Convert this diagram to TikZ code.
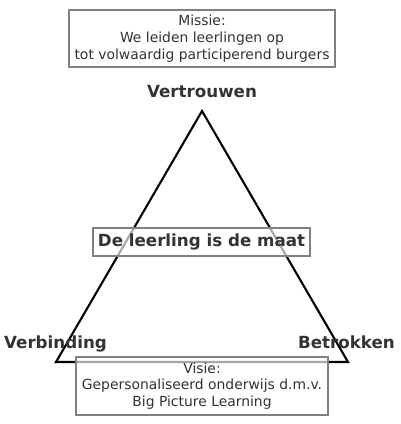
\documentclass[tikz,border=0pt]{standalone}
\usepackage{fontspec}
\setmainfont{DejaVu Sans}
\definecolor{txt}{RGB}{51,51,51}
\definecolor{edge}{RGB}{128,128,128}
\begin{document}
\begin{tikzpicture}[x=1pt,y=-1pt,
  infobox/.style={draw=edge,line width=1.2pt,fill=white,fill opacity=0.65,text opacity=1,
    text=txt,align=center,inner sep=0pt,font=\fontsize{13.9}{16.7}\selectfont},
  corner/.style={text=txt,inner sep=0pt,anchor=base,font=\fontsize{16.7}{20}\selectfont\bfseries}]
\useasboundingbox (0,0) rectangle (400,424);
\coordinate (A) at (202,111);
\coordinate (B) at (56,362);
\coordinate (C) at (348,362);
\draw[line width=2.1pt,line join=miter] (A) -- (B) -- (C) -- cycle;
\node[infobox,minimum width=266,minimum height=57] (missie) at (202,38.5)
  {Missie:\\We leiden leerlingen op\\tot volwaardig participerend burgers};
\node[infobox,minimum width=217,minimum height=28,font=\fontsize{16.7}{20}\selectfont\bfseries] (maat) at (201.5,242)
  {De leerling is de maat};
\node[infobox,minimum width=252,minimum height=58] (visie) at (202,386)
  {Visie:\\Gepersonaliseerd onderwijs d.m.v.\\Big Picture Learning};
\node[corner] (vert) at (202,97.5) {Vertrouwen};
\node[corner] (verb) at (55.5,348) {Verbinding};
\node[corner] (betr) at (346.5,348) {Betrokken};
\end{tikzpicture}
\end{document}
